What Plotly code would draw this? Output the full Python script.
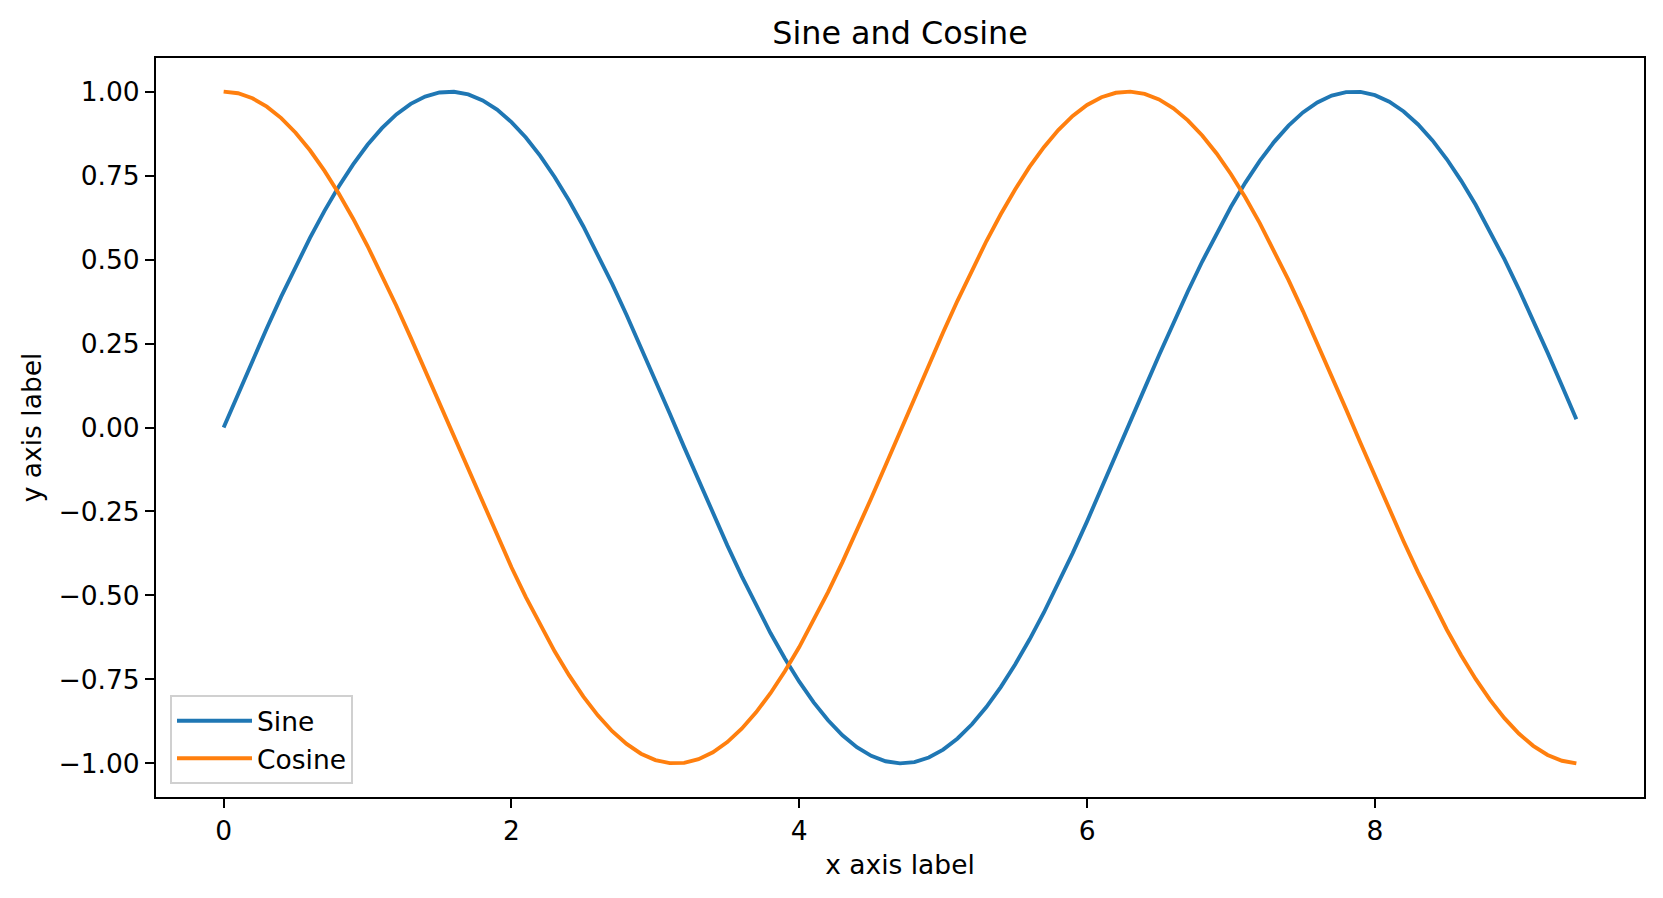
import plotly.graph_objects as go

x_vals = [0.0, 0.1, 0.2, 0.3, 0.4, 0.5, 0.6, 0.7, 0.8, 0.9,
          1.0, 1.1, 1.2, 1.3, 1.4, 1.5, 1.6, 1.7, 1.8, 1.9,
          2.0, 2.1, 2.2, 2.3, 2.4, 2.5, 2.6, 2.7, 2.8, 2.9,
          3.0, 3.1, 3.2, 3.3, 3.4, 3.5, 3.6, 3.7, 3.8, 3.9,
          4.0, 4.1, 4.2, 4.3, 4.4, 4.5, 4.6, 4.7, 4.8, 4.9,
          5.0, 5.1, 5.2, 5.3, 5.4, 5.5, 5.6, 5.7, 5.8, 5.9,
          6.0, 6.1, 6.2, 6.3, 6.4, 6.5, 6.6, 6.7, 6.8, 6.9,
          7.0, 7.1, 7.2, 7.3, 7.4, 7.5, 7.6, 7.7, 7.8, 7.9,
          8.0, 8.1, 8.2, 8.3, 8.4, 8.5, 8.6, 8.7, 8.8, 8.9,
          9.0, 9.1, 9.2, 9.3, 9.4]

sine_vals = [0.0000, 0.0998, 0.1987, 0.2955, 0.3894, 0.4794, 0.5646, 0.6442, 0.7174, 0.7833,
             0.8415, 0.8912, 0.9320, 0.9636, 0.9854, 0.9975, 0.9996, 0.9917, 0.9738, 0.9463,
             0.9093, 0.8632, 0.8085, 0.7457, 0.6755, 0.5985, 0.5155, 0.4274, 0.3350, 0.2392,
             0.1411, 0.0416, -0.0584, -0.1577, -0.2555, -0.3508, -0.4425, -0.5298, -0.6119, -0.6878,
             -0.7568, -0.8183, -0.8716, -0.9162, -0.9516, -0.9775, -0.9937, -0.9999, -0.9962, -0.9825,
             -0.9589, -0.9258, -0.8835, -0.8323, -0.7728, -0.7055, -0.6313, -0.5507, -0.4646, -0.3739,
             -0.2794, -0.1822, -0.0831, 0.0168, 0.1165, 0.2151, 0.3115, 0.4048, 0.4941, 0.5784,
             0.6570, 0.7290, 0.7937, 0.8504, 0.8987, 0.9380, 0.9679, 0.9882, 0.9985, 0.9989,
             0.9894, 0.9699, 0.9407, 0.9022, 0.8546, 0.7985, 0.7344, 0.6630, 0.5849, 0.5010,
             0.4121, 0.3191, 0.2229, 0.1245, 0.0248]

cosine_vals = [1.0000, 0.9950, 0.9801, 0.9553, 0.9211, 0.8776, 0.8253, 0.7648, 0.6967, 0.6216,
               0.5403, 0.4536, 0.3624, 0.2675, 0.1700, 0.0707, -0.0292, -0.1288, -0.2272, -0.3233,
               -0.4161, -0.5048, -0.5885, -0.6663, -0.7374, -0.8011, -0.8569, -0.9041, -0.9422, -0.9710,
               -0.9900, -0.9991, -0.9983, -0.9875, -0.9668, -0.9365, -0.8968, -0.8481, -0.7910, -0.7259,
               -0.6536, -0.5748, -0.4903, -0.4008, -0.3073, -0.2108, -0.1122, -0.0124, 0.0875, 0.1865,
               0.2837, 0.3780, 0.4685, 0.5544, 0.6347, 0.7087, 0.7756, 0.8347, 0.8855, 0.9275,
               0.9602, 0.9833, 0.9965, 0.9999, 0.9932, 0.9766, 0.9502, 0.9144, 0.8694, 0.8157,
               0.7539, 0.6845, 0.6084, 0.5261, 0.4385, 0.3466, 0.2513, 0.1534, 0.0540, -0.0460,
               -0.1455, -0.2435, -0.3392, -0.4314, -0.5193, -0.6020, -0.6787, -0.7486, -0.8111, -0.8654,
               -0.9111, -0.9477, -0.9748, -0.9922, -0.9997]

x_ticks = [0, 2, 4, 6, 8]
y_ticks = [-1.0, -0.75, -0.5, -0.25, 0.0, 0.25, 0.5, 0.75, 1.0]

title_text = "Sine and Cosine"
x_label = "x axis label"
y_label = "y axis label"

FONT = "DejaVu Sans"
FS = 26.5
OFF = 8  # browser body margin
W, H = 1663 - OFF, 898 - OFF
# plot area in page coordinates
PL, PR, PT, PB = 156, 1644, 58, 797
L, R, T, B = PL - OFF, PR - OFF, PT - OFF, PB - OFF

fig = go.Figure()
fig.add_trace(go.Scatter(x=x_vals, y=sine_vals, mode="lines", name="Sine",
                         line=dict(color="#1f77b4", width=3.9)))
fig.add_trace(go.Scatter(x=x_vals, y=cosine_vals, mode="lines", name="Cosine",
                         line=dict(color="#ff7f0e", width=3.9)))

axis_common = dict(
    showgrid=False, zeroline=False, showline=True, mirror=True,
    linecolor="black", linewidth=2.1, ticks="outside", ticklen=9,
    tickwidth=2.1, tickcolor="black",
    tickfont=dict(family=FONT, size=FS, color="black"),
)

fig.update_layout(
    width=W, height=H,
    margin=dict(l=L, r=W - R, t=T, b=H - B, pad=0, autoexpand=False),
    paper_bgcolor="white", plot_bgcolor="white",
    font=dict(family=FONT, size=FS, color="black"),
    title=dict(text=title_text, x=(L + R) / 2 / W, xanchor="center",
               y=1 - (33 - OFF) / H, yanchor="middle",
               font=dict(family=FONT, size=31.8, color="black")),
    xaxis=dict(range=[-0.47, 9.87], tickvals=x_ticks, ticktext=[str(v) for v in x_ticks],
               title=dict(text=x_label, standoff=11, font=dict(family=FONT, size=FS)),
               **axis_common),
    yaxis=dict(range=[-1.1, 1.1], tickvals=y_ticks, tickformat=".2f",
               title=dict(text=y_label, standoff=9, font=dict(family=FONT, size=FS)),
               **axis_common),
    legend=dict(x=(170 - PL) / (PR - PL), y=(PB - 784) / (PB - PT),
                xanchor="left", yanchor="bottom",
                bgcolor="white", bordercolor="#d0d0d0", borderwidth=2,
                font=dict(family=FONT, size=FS, color="black"),
                itemwidth=75, tracegroupgap=0),
    showlegend=True,
)

fig.write_html("out.html")
